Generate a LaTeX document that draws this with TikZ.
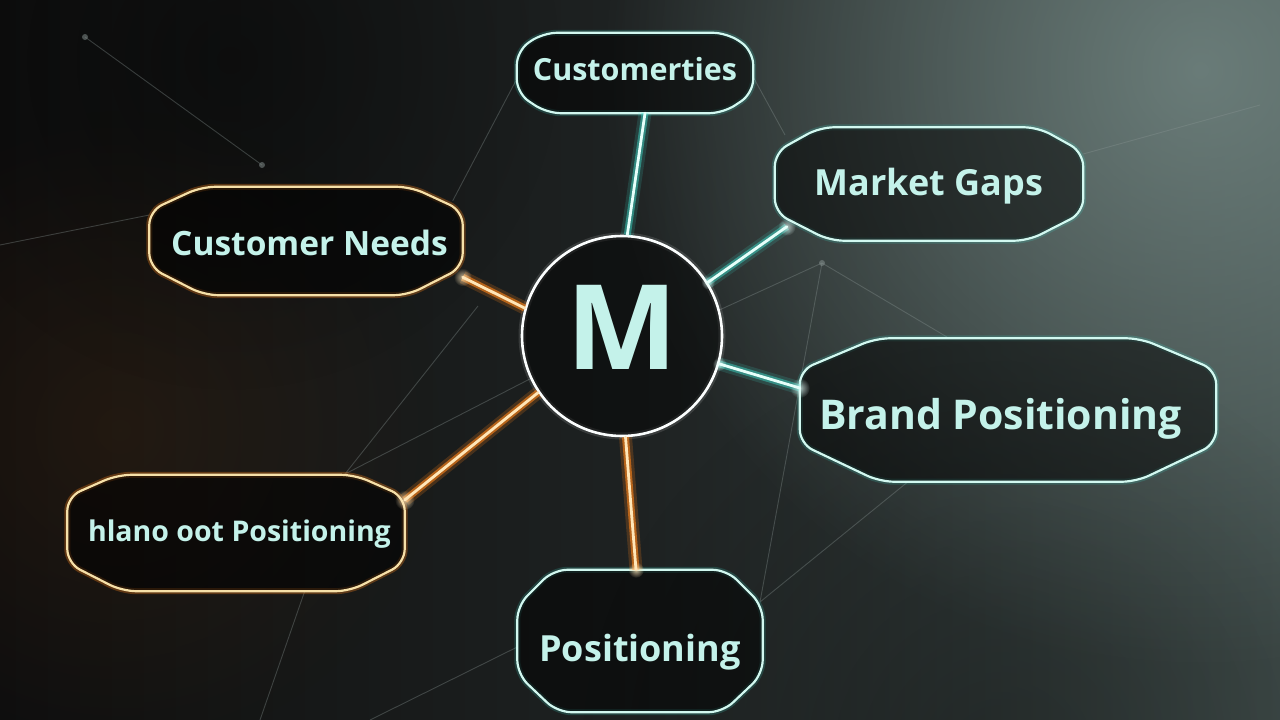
\documentclass[tikz,border=0pt]{standalone}
\usepackage{fontspec}
\setmainfont{Open Sans}
\usetikzlibrary{fadings}
\pgfdeclarelayer{bgl}
\pgfdeclarelayer{midl}
\pgfsetlayers{bgl,midl,main}
\definecolor{bgA}{HTML}{0E0E0E}
\definecolor{bgB}{HTML}{1E2222}
\definecolor{bgC}{HTML}{3E4A48}
\definecolor{glowTR}{HTML}{7E938F}
\definecolor{warm}{HTML}{4A2A10}
\definecolor{txt}{HTML}{C4F2EA}
\definecolor{cyanCore}{HTML}{E6FFFA}
\definecolor{cyanGlow}{HTML}{3FE0CF}
\definecolor{cyanEdge}{HTML}{D2F8F0}
\definecolor{orCore}{HTML}{FFE6B8}
\definecolor{orGlow}{HTML}{FF8418}
\definecolor{goldEdge}{HTML}{F6E0A8}
\definecolor{faint}{HTML}{8A9694}
\tikzfading[name=softglow, inner color=transparent!0, outer color=transparent!100]
% outline of a chamfered box round node #1
% #2,#3 top chamfer (x,y); #4,#5 bottom chamfer (x,y); #6 style
\newcommand\octoutline[6]{%
  \path[#6] (#1.north) -- ([xshift=-#2]#1.north east) -- ([yshift=-#3]#1.north east)
    -- ([yshift=#5]#1.south east) -- ([xshift=-#4]#1.south east)
    -- ([xshift=#4]#1.south west) -- ([yshift=#5]#1.south west)
    -- ([yshift=-#3]#1.north west) -- ([xshift=#2]#1.north west) -- cycle;}
\begin{document}
\begin{tikzpicture}[x=1pt,y=-1pt,
  label node/.style={rectangle, inner sep=0pt, text=txt, text depth=0pt},
  cyanbox/.style={draw=cyanEdge, line width=2.2pt, rounded corners=14pt,
    fill=black, fill opacity=0.5,
    preaction={draw=cyanGlow, line width=6pt, draw opacity=0.18, rounded corners=14pt}},
  goldbox/.style={draw=goldEdge, line width=2.2pt, rounded corners=14pt,
    fill=black, fill opacity=0.55,
    preaction={draw=orGlow, line width=6pt, draw opacity=0.3, rounded corners=14pt}},
  cyanline/.style={draw=cyanCore, line width=2.8pt, line cap=round,
    preaction={draw=cyanGlow, line width=13pt, draw opacity=0.15},
    preaction={draw=cyanGlow, line width=7pt, draw opacity=0.45}},
  orline/.style={draw=orCore, line width=2.8pt, line cap=round,
    preaction={draw=orGlow, line width=13pt, draw opacity=0.2},
    preaction={draw=orGlow, line width=7pt, draw opacity=0.6}},
  cyanflare/.style={fill=cyanCore, fill opacity=0.7, path fading=softglow},
  orflare/.style={fill=orCore, fill opacity=0.75, path fading=softglow},
  faintline/.style={draw=faint, line width=0.9pt, draw opacity=0.35},
  dotmark/.style={circle, fill=faint, fill opacity=0.5, inner sep=0pt, minimum size=6pt}
]
\useasboundingbox (0,0) rectangle (1280,720);

% ---- nodes (text) ----
\node[circle, draw=white!92!cyanEdge, line width=2.6pt, minimum size=200pt,
  fill=black, fill opacity=0.45, text opacity=1, text=txt, inner sep=0pt,
  text height=67pt, text depth=0pt,
  preaction={draw=white, line width=7pt, draw opacity=0.12},
  font=\fontsize{118}{118}\selectfont\bfseries] (m) at (622,336) {M};

\node[label node, minimum width=236pt, minimum height=80pt, text height=15.4pt,
  font=\fontsize{30.5}{34}\selectfont\bfseries] (ct) at (635,73) {Customerties};
\node[label node, minimum width=308pt, minimum height=113pt, text height=23.8pt,
  font=\fontsize{36}{40}\selectfont\bfseries] (mg) at (929,184) {Market Gaps};
\node[label node, minimum width=313pt, minimum height=108pt, text height=29pt,
  font=\fontsize{33.5}{38}\selectfont\bfseries] (cn) at (306,241) {\hspace{7pt}Customer Needs};
\node[label node, minimum width=416pt, minimum height=143pt, text height=39pt,
  font=\fontsize{41}{44}\selectfont\bfseries] (bp) at (1008,410) {\hspace*{-15pt}Brand Positioning};
\node[label node, minimum width=337pt, minimum height=116pt, text height=16.4pt,
  font=\fontsize{28.5}{32}\selectfont\bfseries] (hp) at (236,533) {\hspace{7pt}hlano oot Positioning};
\node[label node, minimum width=245pt, minimum height=142pt, text height=40.8pt,
  font=\fontsize{36}{40}\selectfont\bfseries] (po) at (640,641) {Positioning};

% ---- box outlines ----
\begin{pgfonlayer}{midl}
\octoutline{ct}{26pt}{18pt}{30pt}{20pt}{cyanbox}
\octoutline{mg}{45pt}{25pt}{55pt}{28pt}{cyanbox}
\octoutline{cn}{52pt}{24pt}{55pt}{28pt}{goldbox}
\octoutline{bp}{76pt}{32pt}{80pt}{38pt}{cyanbox}
\octoutline{hp}{50pt}{22pt}{55pt}{28pt}{goldbox}
\octoutline{po}{36pt}{36pt}{40pt}{38pt}{cyanbox}
\end{pgfonlayer}

% ---- background and faint lines ----
\begin{pgfonlayer}{bgl}
\shade[left color=bgA, right color=bgC, middle color=bgB] (0,0) rectangle (1280,720);
\fill[glowTR, fill opacity=0.7, path fading=softglow] (1200,70) circle (600);
\fill[warm, fill opacity=0.3, path fading=softglow] (120,430) circle (320);
\fill[black, fill opacity=0.35, path fading=softglow] (230,60) circle (330);
\fill[black, fill opacity=0.25, path fading=softglow] (1000,760) circle (420);

\coordinate (f1) at (85,37);
\coordinate (f2) at (262,165);
\coordinate (f3) at (0,245);
\coordinate (f5) at (1260,105);
\coordinate (f6) at (822,263);
\coordinate (f7) at (947,337);
\coordinate (f8) at (760,602);
\coordinate (f9) at (478,306);
\coordinate (f10) at (345,474);
\coordinate (f11) at (260,720);
\coordinate (f12) at (370,720);
\coordinate (f13) at (785,135);

\draw[faintline] (f1) -- (f2);
\draw[faintline] (f3) -- ([yshift=26pt]cn.west);
\draw[faintline] ([xshift=-10pt,yshift=-14pt]cn.north east) -- ([yshift=-6pt]ct.west);
\draw[faintline] ([yshift=-4pt]ct.east) -- (f13);
\draw[faintline] ([yshift=30pt]mg.east) -- (f5);
\draw[faintline] (m.15) -- (f6) -- (f7);
\draw[faintline] (f6) -- (f8) -- ([xshift=-100pt]bp.south);
\draw[faintline] (f9) -- (f10) -- (m.205);
\draw[faintline] ([xshift=-100pt]hp.south east) -- (f11);
\draw[faintline] ([yshift=-6pt]po.west) -- (f12);
\node[dotmark] at (f1) {};
\node[dotmark] at (f2) {};
\node[dotmark] at (f6) {};
\end{pgfonlayer}

% ---- glowing connectors ----
\coordinate (e1) at ([xshift=10pt]ct.south);
\coordinate (e2) at ([xshift=12pt,yshift=14pt]mg.south west);
\coordinate (e3) at ([yshift=22pt]bp.west);
\coordinate (e4) at ([yshift=18pt]cn.south east);
\coordinate (e5) at ([yshift=33pt]hp.east);
\coordinate (e6) at ([xshift=-4pt]po.north);
\draw[cyanline] (e1) -- (m.87);
\draw[cyanline] (e2) -- (m.32);
\draw[cyanline] (m.-16) -- (e3);
\draw[orline] (e4) -- (m.164);
\draw[orline] (m.214) -- (e5);
\draw[orline] (m.-88) -- (e6);
% flares at the junctions
\fill[cyanflare] (e2) circle (9);
\fill[cyanflare] (e3) circle (10);
\fill[cyanflare] (m.32) circle (7);
\fill[cyanflare] (m.-16) circle (7);
\fill[orflare] (e4) circle (9);
\fill[orflare] (e5) circle (10);
\fill[orflare] (e6) circle (8);
\end{tikzpicture}
\end{document}
